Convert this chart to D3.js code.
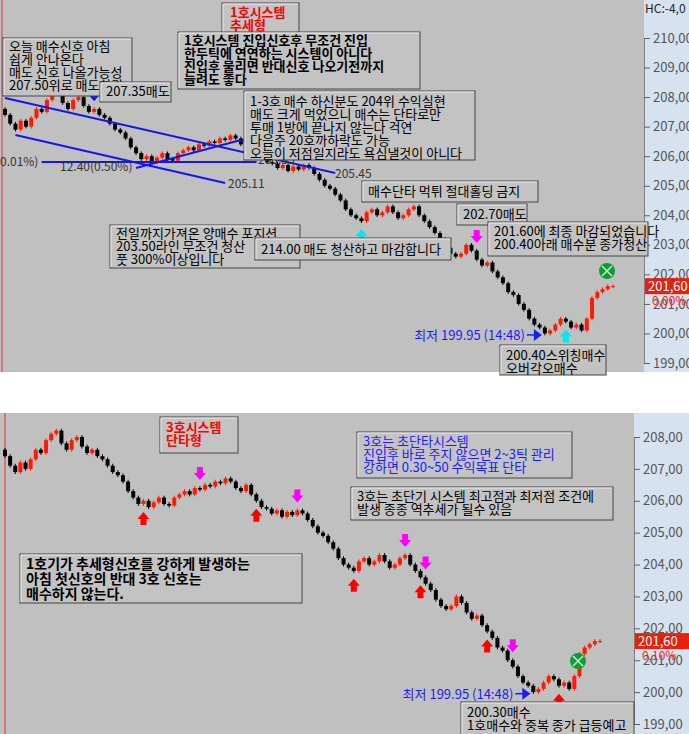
<!DOCTYPE html>
<html><head><meta charset="utf-8">
<script src="https://cdn.jsdelivr.net/npm/d3@7"></script>
<style>
body{margin:0;background:#fff;}
text{font-family:"Noto Sans CJK KR","Noto Sans",sans-serif;}
</style></head><body>
<svg id="chart" width="689" height="734"></svg>
<script>
// closes, one per bar
const closes = [207.4,207.1,206.9,207.2,207.0,207.3,207.6,207.5,207.9,208.1,208.2,207.8,207.6,207.9,208.0,207.7,207.5,207.6,207.4,207.3,
  207.1,206.9,206.8,206.6,206.3,206.1,205.9,206.0,205.8,205.95,206.1,205.9,205.85,206.1,206.2,206.3,206.2,206.4,206.35,206.5,
  206.45,206.6,206.55,206.7,206.6,206.4,206.3,206.5,206.2,206.0,205.8,205.75,205.6,205.7,205.5,205.65,205.55,205.7,205.6,205.4,
  205.2,205.0,204.9,204.7,204.5,204.2,204.0,203.9,203.8,204.1,204.2,204.0,204.1,204.3,204.1,203.9,204.0,204.2,204.3,204.0,
  203.8,203.6,203.4,203.2,202.9,202.7,202.6,202.7,203.0,202.8,202.5,202.3,202.4,202.1,201.9,201.7,201.4,201.3,201.0,200.8,
  200.5,200.3,200.2,200.0,200.1,200.3,200.5,200.4,200.2,200.3,200.1,200.5,201.2,201.4,201.5,201.6,201.6];
const firstOpen = 207.6;
const wick = 0.06;

const topTicks = [199,200,201,202,203,204,205,206,207,208,209,210];
const botTicks = [199,200,201,202,203,204,205,206,207,208];

// trend lines on the top panel: [bar0, price0, bar1, price1]
const trendLines = [[0,207.97,63,205.43],[2,206.72,42,205.09],[7,205.8,48,205.8],[25,205.6,45,206.55],[45,206.5,52,206.9]];

// signals: [bar, kind]
const topSignals = [[17,'bdown'],[68,'cup'],[90,'mdown'],[107,'cup']];
const botSignals = [[38,'mdown'],[57,'mdown'],[78,'mdown'],[82,'mdown'],[99,'mdown'],
  [27,'rup'],[49,'rup'],[68,'rup'],[81,'rup'],[94,'rup'],[108,'rup']];

const bars = closes.map((c, i) => {
  const o = i === 0 ? firstOpen : closes[i - 1];
  return {i, o, c, h: Math.max(o, c) + wick, l: Math.min(o, c) - wick};
});

const svg = d3.select('#chart');
const fmt = v => d3.format('.2f')(v).replace('.', ',');

function panel(cfg) {
  const g = svg.append('g');
  g.append('rect').attr('x', 0).attr('y', cfg.y0).attr('width', cfg.axisX).attr('height', cfg.y1 - cfg.y0).attr('fill', '#c0c0c0');
  g.append('rect').attr('x', cfg.axisX).attr('y', cfg.y0).attr('width', 689 - cfg.axisX).attr('height', cfg.y1 - cfg.y0).attr('fill', '#d6e2ef');
  g.append('line').attr('x1', cfg.redX).attr('x2', cfg.redX).attr('y1', cfg.y0).attr('y2', cfg.y1).attr('stroke', '#e03030');

  const x = d3.scaleLinear().domain([0, closes.length - 1]).range(cfg.xr);
  const y = d3.scaleLinear().domain([199, cfg.yTop]).range(cfg.yr);

  const ax = g.append('g').attr('transform', 'translate(' + cfg.axisX + ',0)')
    .call(d3.axisRight(y).tickValues(cfg.ticks).tickFormat(fmt).tickSize(6));
  ax.select('.domain').attr('stroke', '#808080');
  ax.selectAll('line').attr('stroke', '#606060');
  ax.selectAll('text').attr('font-size', 13).attr('fill', '#555').attr('font-family', 'Liberation Sans, sans-serif');

  const cg = g.append('g').selectAll('.bar').data(bars).enter().append('g');
  cg.append('line').attr('x1', d => x(d.i)).attr('x2', d => x(d.i))
    .attr('y1', d => y(d.h)).attr('y2', d => y(d.l))
    .attr('stroke', d => d.c >= d.o ? '#ff1a00' : '#000');
  cg.append('rect').attr('x', d => x(d.i) - 2).attr('width', 4)
    .attr('y', d => y(Math.max(d.o, d.c)))
    .attr('height', d => Math.max(1, Math.abs(y(d.o) - y(d.c))))
    .attr('fill', d => d.c >= d.o ? '#ff1a00' : '#000');

  cfg.signals.forEach(([b, k]) => {
    const d = bars[b];
    const px = x(b);
    let col, py, up;
    if (k === 'cup') { col = '#00e8f0'; up = true; }
    if (k === 'rup') { col = '#ff0000'; up = true; }
    if (k === 'mdown') { col = '#ff00ff'; up = false; }
    if (k === 'bdown') { col = '#1010ff'; up = false; }
    if (up) {
      py = y(d.l) + 6;
      g.append('path').attr('d', `M${px},${py} l-6,7 h3 v6 h6 v-6 h3 z`).attr('fill', col);
    } else {
      py = y(d.h) - 6;
      g.append('path').attr('d', `M${px},${py} l-6,-7 h3 v-6 h6 v6 h3 z`).attr('fill', col);
    }
  });

  // last price
  const last = closes[closes.length - 1];
  g.append('rect').attr('x', cfg.axisX + 1).attr('y', y(last) - 8).attr('width', 689 - cfg.axisX).attr('height', 16).attr('fill', '#e8200c');
  g.append('text').attr('x', cfg.axisX + 4).attr('y', y(last) + 5).attr('fill', '#fff').attr('font-size', 13)
    .attr('font-family', 'Liberation Sans, sans-serif').text(fmt(last));
  g.append('text').attr('x', cfg.axisX + 8).attr('y', y(last) + 19).attr('fill', '#ff2020').attr('font-size', 12)
    .attr('font-family', 'Liberation Sans, sans-serif').text(cfg.pct);

  // green X marker
  g.append('circle').attr('cx', cfg.green[0]).attr('cy', cfg.green[1]).attr('r', 8).attr('fill', '#129a3a');
  g.append('path').attr('d', `M${cfg.green[0]-5},${cfg.green[1]-5}l10,10M${cfg.green[0]+5},${cfg.green[1]-5}l-10,10`).attr('stroke', '#bff5c8').attr('stroke-width', 1.5);

  // low label
  const lowX = x(103);
  g.append('text').attr('x', lowX - 20).attr('y', y(199.95) + 5).attr('text-anchor', 'end').attr('fill', '#1a1aff').attr('font-size', 13)
    .text('최저 199.95 (14:48)');
  g.append('path').attr('d', `M${lowX-18},${y(199.95)}h14`).attr('stroke', '#1a1aff').attr('stroke-width', 1.5);
  g.append('path').attr('d', `M${lowX-3},${y(199.95)}l-8,-6v12z`).attr('fill', '#1a1aff');

  return {g, x, y};
}

function box(g, x, y, w, h, lines, opt) {
  opt = opt || {};
  g.append('rect').attr('x', x).attr('y', y).attr('width', w).attr('height', h)
    .attr('fill', '#c3c3c3').attr('stroke', '#444').attr('stroke-width', 1);
  g.append('path').attr('d', `M${x+1},${y+h-1}V${y+1}H${x+w-1}`).attr('stroke', '#eee').attr('fill', 'none');
  const t = g.append('text').attr('font-size', opt.size || 13).attr('fill', opt.color || '#000')
    .attr('font-weight', opt.bold ? 'bold' : 'normal');
  lines.forEach((s, k) => {
    t.append('tspan').attr('x', x + (opt.pad || 6)).attr('y', y + (opt.first || 14) + k * (opt.lh || 13)).text(s);
  });
}

// ---------- top panel ----------
const P1 = panel({y0: 0, y1: 372, axisX: 644, redX: 2, xr: [5, 613], yr: [363, 38], yTop: 210,
  ticks: topTicks, signals: topSignals, pct: '0,00%', green: [607, 271]});

trendLines.forEach(([b0, p0, b1, p1]) => {
  P1.g.append('line').attr('x1', P1.x(b0)).attr('y1', P1.y(p0)).attr('x2', P1.x(b1)).attr('y2', P1.y(p1))
    .attr('stroke', '#1515ee').attr('stroke-width', 2);
});
[['205.11', 228, 188], ['205.45', 335, 178], ['12.40(0.50%)', 60, 171], ['0.01%)', 0, 166], ['205.35', 258, 164]].forEach(([s, tx, ty]) => {
  P1.g.append('text').attr('x', tx).attr('y', ty).attr('font-size', 12).attr('fill', '#333').text(s);
});
P1.g.append('text').attr('x', 645).attr('y', 13).attr('font-size', 12).attr('fill', '#222').attr('font-family', 'Liberation Sans, sans-serif').text('HC:-4,0');

box(P1.g, 3, 38, 129, 58, ['오늘 매수신호 아침', '쉽게 안나온다', '매도 신호 나올가능성', '207.50위로 매도하라'], {lh: 13, first: 13});
box(P1.g, 100, 82, 71, 20, ['207.35매도']);
box(P1.g, 222, 3, 77, 30, ['1호시스템', '추세형'], {color: '#ff0000', bold: true, pad: 8, first: 14});
box(P1.g, 178, 32, 242, 57, ['1호시스템 진입신호후 무조건 진입', '한두틱에 연연하는 시스템이 아니다', '진입후 물리면 반대신호 나오기전까지', '늘려도 좋다'], {bold: true, first: 13});
box(P1.g, 244, 91, 231, 69, ['1-3호 매수 하신분도 204위 수익실현', '매도 크게 먹었으니 매수는 단타로만', '투매 1방에 끝나지 않는다 걱연', '다음주 20호까하락도 가능', '오늘이 저점일지라도 욕심낼것이 아니다'], {first: 15});
box(P1.g, 362, 181, 176, 21, ['매수단타 먹튀 절대홀딩 금지'], {first: 15});
box(P1.g, 457, 204, 70, 21, ['202.70매도'], {first: 15});
box(P1.g, 488, 222, 160, 34, ['201.60에 최종 마감되었습니다', '200.40아래 매수분 종가청산'], {first: 14});
box(P1.g, 110, 225, 190, 43, ['전일까지가져온 양매수 포지션', '203.50라인 무조건 청산', '풋 300%이상입니다'], {first: 13});
box(P1.g, 255, 238, 196, 22, ['214.00 매도 청산하고 마감합니다'], {first: 16});
box(P1.g, 500, 345, 106, 30, ['200.40스위칭매수', '오버각오매수'], {first: 15});

// ---------- bottom panel ----------
const P2 = panel({y0: 413, y1: 734, axisX: 634, redX: 5, xr: [5, 600], yr: [724, 437], yTop: 208,
  ticks: botTicks, signals: botSignals, pct: '0,10%', green: [578, 661]});

box(P2.g, 160, 417, 78, 36, ['3호시스템', '단타형'], {color: '#ff0000', bold: true, pad: 6, first: 15});
box(P2.g, 357, 432, 215, 46, ['3호는 초단타시스템', '진입후 바로 주지 않으면 2~3틱 관리', '강하면 0.30~50 수익목표 단타'], {color: '#1a1aff', first: 14});
box(P2.g, 351, 487, 262, 33, ['3호는 초단기 시스템 최고점과 최저점 조건에', '발생 종종 역추세가 될수 있음'], {first: 14});
box(P2.g, 20, 554, 282, 49, ['1호기가 추세형신호를 강하게 발생하는', '아침 첫신호의 반대 3호 신호는', '매수하지 않는다.'], {bold: true, size: 14, first: 15, lh: 15});
box(P2.g, 461, 702, 173, 34, ['200.30매수', '1호매수와 중복 종가 급등예고'], {first: 15});
</script>
</body></html>
